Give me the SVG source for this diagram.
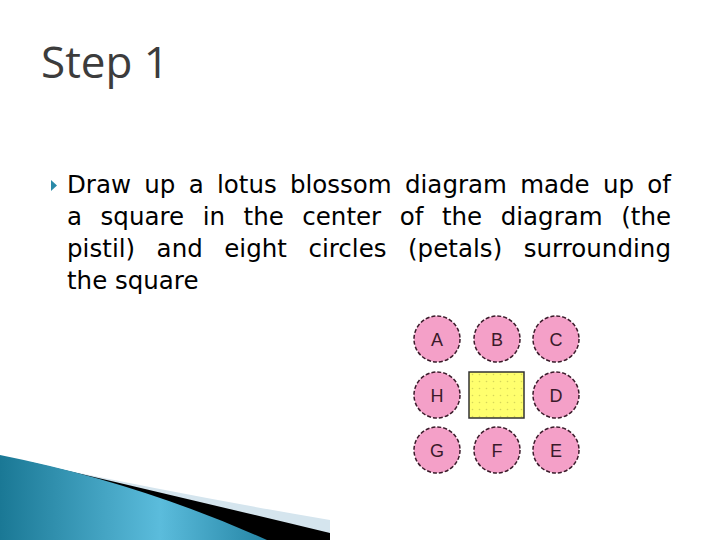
<svg xmlns="http://www.w3.org/2000/svg" width="720" height="540" viewBox="0 0 720 540">
<defs>
<style>
.title{font-family:"Open Sans","Liberation Sans",sans-serif;font-size:44px;fill:#3c3c3c}
.body{font-family:"DejaVu Sans","Liberation Sans",sans-serif;font-size:24.5px;fill:#000}
.petal circle{fill:#f4a0c8;stroke:#3a1a2a;stroke-width:1.5;stroke-dasharray:4 2}
.petal text{font-family:"Liberation Sans",Arial,sans-serif;font-size:18px;fill:#3a1a2a;text-anchor:middle}
</style>
<pattern id="dots" width="7" height="7" patternUnits="userSpaceOnUse">
<rect width="7" height="7" fill="#ffff6e"/>
<circle cx="3.5" cy="3.5" r="0.8" fill="#d6d65a"/>
</pattern>
<linearGradient id="teal" x1="0" y1="0" x2="1" y2="0">
<stop offset="0" stop-color="#1a7895"/>
<stop offset="0.6" stop-color="#5bbcdc"/>
<stop offset="1" stop-color="#2585a5"/>
</linearGradient>
</defs>
<rect width="720" height="540" fill="#fff"/>
<g id="swoosh">
<path d="M50,467 Q200,498 330,520 L330,540 L0,540 Z" fill="#d5e5ee"/>
<path d="M30,462 Q180,497 330,533 L330,540 L0,540 Z" fill="#000"/>
<path d="M0,455 Q140,483 267,540 L0,540 Z" fill="url(#teal)"/>
</g>
<g id="title"><text class="title" x="41" y="78">Step 1</text></g>
<g id="bullet-text">
<path d="M51,180 L57,185.5 L51,191 Z" fill="#2a8aa8"/>
<text class="body" x="67" y="193" word-spacing="5.5" textLength="604" lengthAdjust="spacing">Draw up a lotus blossom diagram made up of</text>
<text class="body" x="67" y="225" word-spacing="10.7" textLength="604" lengthAdjust="spacing">a square in the center of the diagram (the</text>
<text class="body" x="67" y="257" word-spacing="13.6" textLength="604" lengthAdjust="spacing">pistil) and eight circles (petals) surrounding</text>
<text class="body" x="67" y="289">the square</text>
</g>
<g id="pistil"><rect x="469" y="372" width="55" height="46" fill="url(#dots)" stroke="#333" stroke-width="1.5"/></g>
<g id="petal-A" class="petal"><circle cx="437" cy="339" r="23"/><text x="437" y="345.5">A</text></g>
<g id="petal-B" class="petal"><circle cx="497" cy="339" r="23"/><text x="497" y="345.5">B</text></g>
<g id="petal-C" class="petal"><circle cx="556" cy="339" r="23"/><text x="556" y="345.5">C</text></g>
<g id="petal-D" class="petal"><circle cx="556" cy="395" r="23"/><text x="556" y="401.5">D</text></g>
<g id="petal-E" class="petal"><circle cx="556" cy="450" r="23"/><text x="556" y="456.5">E</text></g>
<g id="petal-F" class="petal"><circle cx="497" cy="450" r="23"/><text x="497" y="456.5">F</text></g>
<g id="petal-G" class="petal"><circle cx="437" cy="450" r="23"/><text x="437" y="456.5">G</text></g>
<g id="petal-H" class="petal"><circle cx="437" cy="395" r="23"/><text x="437" y="401.5">H</text></g>
</svg>
